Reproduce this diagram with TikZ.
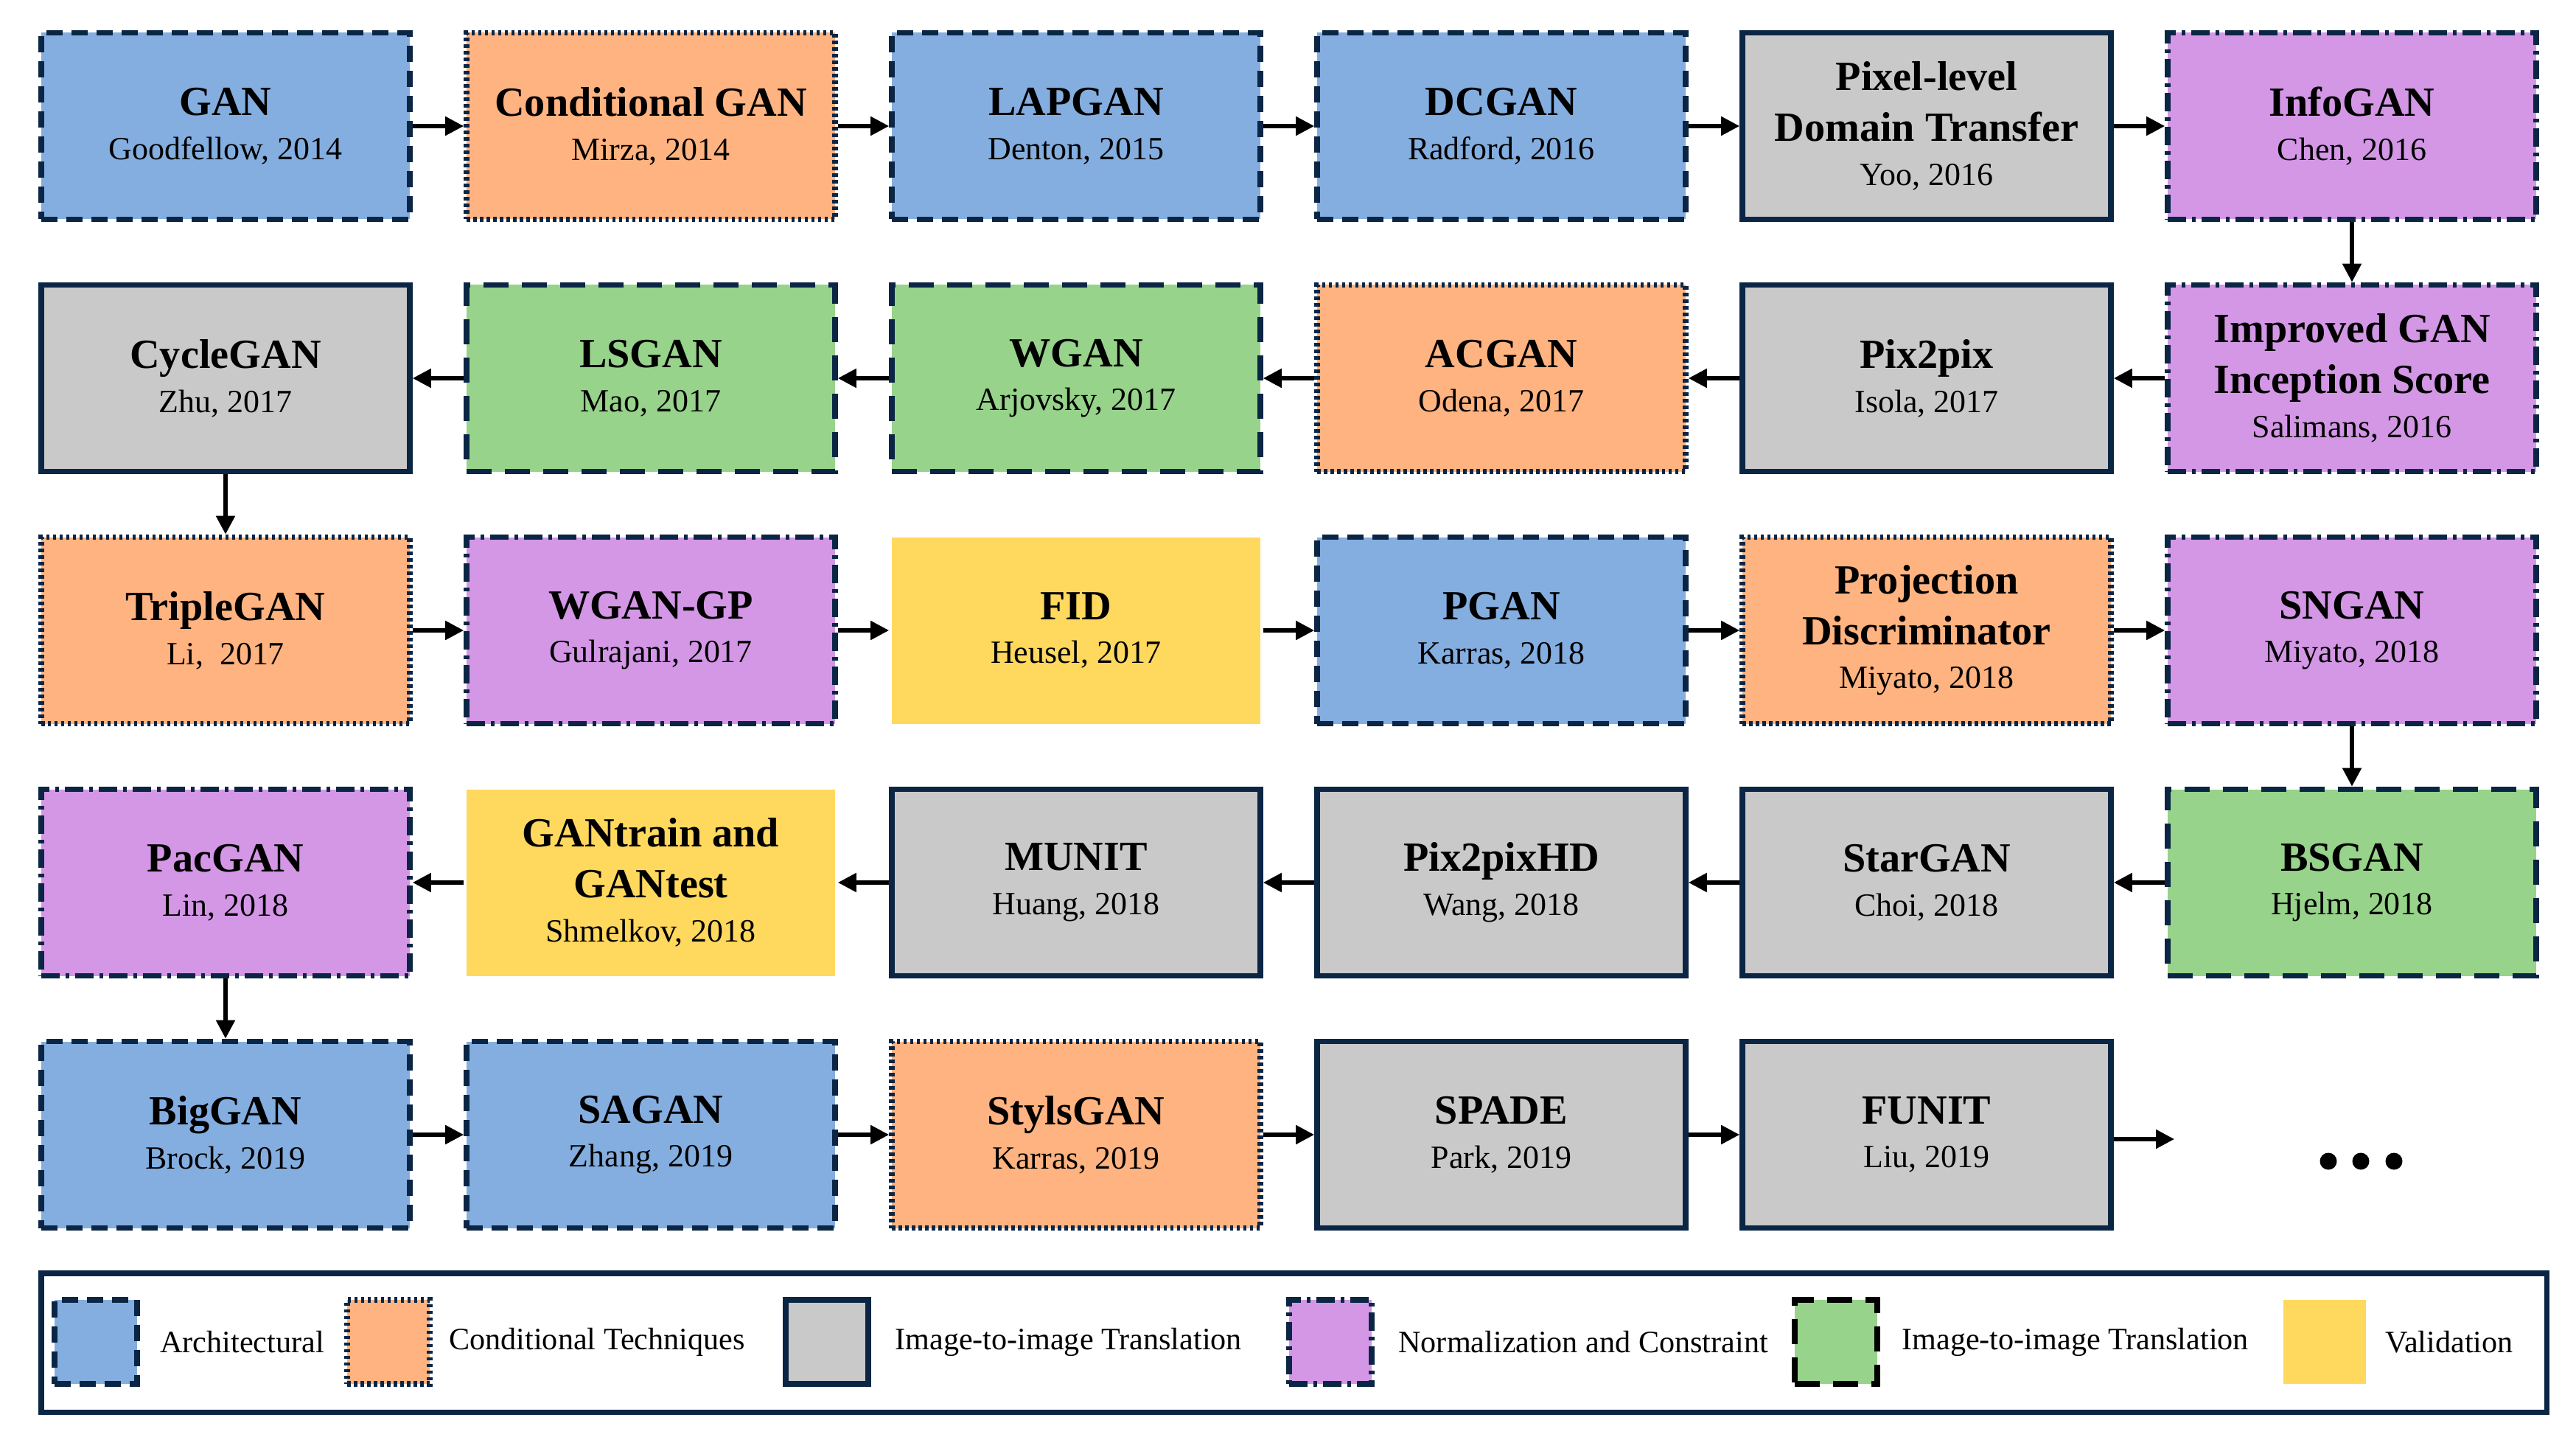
\documentclass[tikz,border=0pt]{standalone}
\usepackage{fontspec}
\setmainfont{Liberation Serif}
\usetikzlibrary{arrows.meta}
\definecolor{navy}{HTML}{0B2545}
\definecolor{cblue}{HTML}{84AEE0}
\definecolor{corange}{HTML}{FFB380}
\definecolor{cgray}{HTML}{C9C9C9}
\definecolor{cpurple}{HTML}{D397E6}
\definecolor{cgreen}{HTML}{97D38A}
\definecolor{cyellow}{HTML}{FFD85E}
\newcommand{\ttl}{\fontsize{16}{19}\selectfont\bfseries}
\begin{document}
\begin{tikzpicture}[
  box/.style={rectangle, minimum width=5cm, minimum height=2.53cm, inner sep=0pt, align=center,
    line width=2.2pt, font=\fontsize{12.5}{17}\selectfont},
  arch/.style={box, fill=cblue, draw=navy, dash pattern=on 0.22cm off 0.12cm},
  cond/.style={box, fill=corange, draw=navy, dash pattern=on 0.045cm off 0.045cm},
  imgt/.style={box, fill=cgray, draw=navy},
  norm/.style={box, fill=cpurple, draw=navy, dash pattern=on 0.25cm off 0.08cm on 0.05cm off 0.08cm},
  gren/.style={box, fill=cgreen, draw=navy, dash pattern=on 0.34cm off 0.18cm},
  vali/.style={box, fill=cyellow},
  arr/.style={-{Triangle[length=0.25cm,width=0.25cm]}, line width=1.5pt, black},
  leg/.style={anchor=west, font=\fontsize{12}{15}\selectfont},
  lsq/.style={minimum width=1.12cm, minimum height=1.14cm},
]
\useasboundingbox (0,0) rectangle (34.95,-19.49);
% row 1
\node[arch] (gan) at (3.06,-1.71) {{\ttl GAN}\\Goodfellow, 2014};
\node[cond] (cgan) at (8.83,-1.71) {{\ttl Conditional GAN}\\Mirza, 2014};
\node[arch] (lapgan) at (14.60,-1.71) {{\ttl LAPGAN}\\Denton, 2015};
\node[arch] (dcgan) at (20.37,-1.71) {{\ttl DCGAN}\\Radford, 2016};
\node[imgt] (pldt) at (26.14,-1.71) {{\ttl Pixel-level}\\[2.5pt]{\ttl Domain Transfer}\\Yoo, 2016};
\node[norm] (infogan) at (31.91,-1.71) {{\ttl InfoGAN}\\Chen, 2016};
% row 2
\node[imgt] (cyclegan) at (3.06,-5.13) {{\ttl CycleGAN}\\Zhu, 2017};
\node[gren] (lsgan) at (8.83,-5.13) {{\ttl LSGAN}\\Mao, 2017};
\node[gren] (wgan) at (14.60,-5.13) {{\ttl WGAN}\\Arjovsky, 2017};
\node[cond] (acgan) at (20.37,-5.13) {{\ttl ACGAN}\\Odena, 2017};
\node[imgt] (pix2pix) at (26.14,-5.13) {{\ttl Pix2pix}\\Isola, 2017};
\node[norm] (impgan) at (31.91,-5.13) {{\ttl Improved GAN}\\[2.5pt]{\ttl Inception Score}\\Salimans, 2016};
% row 3
\node[cond] (triplegan) at (3.06,-8.55) {{\ttl TripleGAN}\\Li,\ \ 2017};
\node[norm] (wgangp) at (8.83,-8.55) {{\ttl WGAN-GP}\\Gulrajani, 2017};
\node[vali] (fid) at (14.60,-8.55) {{\ttl FID}\\Heusel, 2017};
\node[arch] (pgan) at (20.37,-8.55) {{\ttl PGAN}\\Karras, 2018};
\node[cond] (projd) at (26.14,-8.55) {{\ttl Projection}\\[2.5pt]{\ttl Discriminator}\\Miyato, 2018};
\node[norm] (sngan) at (31.91,-8.55) {{\ttl SNGAN}\\Miyato, 2018};
% row 4
\node[norm] (pacgan) at (3.06,-11.97) {{\ttl PacGAN}\\Lin, 2018};
\node[vali] (gantrain) at (8.83,-11.97) {{\ttl GANtrain and}\\[2.5pt]{\ttl GANtest}\\Shmelkov, 2018};
\node[imgt] (munit) at (14.60,-11.97) {{\ttl MUNIT}\\Huang, 2018};
\node[imgt] (pix2pixhd) at (20.37,-11.97) {{\ttl Pix2pixHD}\\Wang, 2018};
\node[imgt] (stargan) at (26.14,-11.97) {{\ttl StarGAN}\\Choi, 2018};
\node[gren] (bsgan) at (31.91,-11.97) {{\ttl BSGAN}\\Hjelm, 2018};
% row 5
\node[arch] (biggan) at (3.06,-15.39) {{\ttl BigGAN}\\Brock, 2019};
\node[arch] (sagan) at (8.83,-15.39) {{\ttl SAGAN}\\Zhang, 2019};
\node[cond] (stylegan) at (14.60,-15.39) {{\ttl StylsGAN}\\Karras, 2019};
\node[imgt] (spade) at (20.37,-15.39) {{\ttl SPADE}\\Park, 2019};
\node[imgt] (funit) at (26.14,-15.39) {{\ttl FUNIT}\\Liu, 2019};
\coordinate (more) at (29.5,-15.45);
\foreach \x [count=\i] in {31.59,32.03,32.48}
  \node[circle, fill=black, inner sep=0pt, minimum size=0.23cm] (dot\i) at (\x,-15.75) {};
% arrows
\draw[arr] (gan) -- (cgan); \draw[arr] (cgan) -- (lapgan); \draw[arr] (lapgan) -- (dcgan);
\draw[arr] (dcgan) -- (pldt); \draw[arr] (pldt) -- (infogan); \draw[arr] (infogan) -- (impgan);
\draw[arr] (impgan) -- (pix2pix); \draw[arr] (pix2pix) -- (acgan); \draw[arr] (acgan) -- (wgan);
\draw[arr] (wgan) -- (lsgan); \draw[arr] (lsgan) -- (cyclegan); \draw[arr] (cyclegan) -- (triplegan);
\draw[arr] (triplegan) -- (wgangp); \draw[arr] (wgangp) -- (fid); \draw[arr] (fid) -- (pgan);
\draw[arr] (pgan) -- (projd); \draw[arr] (projd) -- (sngan); \draw[arr] (sngan) -- (bsgan);
\draw[arr] (bsgan) -- (stargan); \draw[arr] (stargan) -- (pix2pixhd); \draw[arr] (pix2pixhd) -- (munit);
\draw[arr] (munit) -- (gantrain); \draw[arr] (gantrain) -- (pacgan); \draw[arr] (pacgan) -- (biggan);
\draw[arr] (biggan) -- (sagan); \draw[arr] (sagan) -- (stylegan); \draw[arr] (stylegan) -- (spade);
\draw[arr] (spade) -- (funit); \draw[arr] (funit.east |- more) -- (more);
% legend
\node[draw=navy, line width=2pt, minimum width=33.99cm, minimum height=1.88cm, inner sep=0pt] (legend) at (17.555,-18.21) {};
\node[arch, lsq] (l1) at (1.30,-18.2) {};
\node[leg] (t1) at (2.05,-18.2) {Architectural};
\node[cond, lsq] (l2) at (5.27,-18.2) {};
\node[leg] (t2) at (5.97,-18.2) {Conditional Techniques};
\node[imgt, lsq] (l3) at (11.22,-18.2) {};
\node[leg] (t3) at (12.02,-18.2) {Image-to-image Translation};
\node[norm, lsq] (l4) at (18.05,-18.2) {};
\node[leg] (t4) at (18.85,-18.2) {Normalization and Constraint};
\node[gren, lsq, draw=black] (l5) at (24.91,-18.2) {};
\node[leg] (t5) at (25.68,-18.2) {Image-to-image Translation};
\node[vali, lsq] (l6) at (31.54,-18.2) {};
\node[leg] (t6) at (32.24,-18.2) {Validation};
\end{tikzpicture}
\end{document}
